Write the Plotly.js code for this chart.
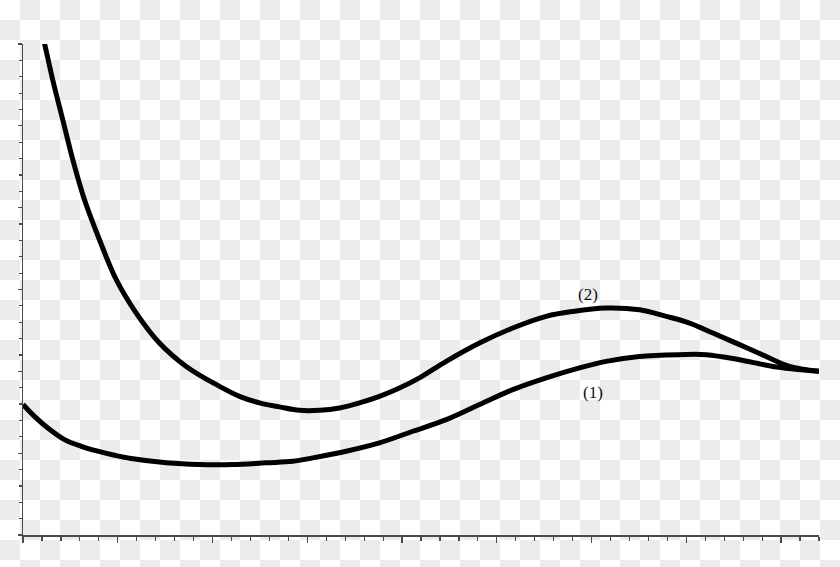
<!DOCTYPE html>
<html>
<head>
<meta charset="utf-8">
<script src="https://cdn.plot.ly/plotly-3.0.1.min.js"></script>
<style>
  html, body { margin: 0; padding: 0; width: 840px; height: 567px; overflow: hidden; background: #ffffff; }
  #chart { width: 840px; height: 567px; }
</style>
</head>
<body>
<div id="chart"></div>
<script>
// Curve (1)
const x1 = [0, 0.121, 0.262, 0.438, 0.614, 0.789, 0.966, 1.142, 1.511, 1.863, 2.214, 2.566, 2.847, 3.058, 3.411, 3.762, 4.114, 4.466, 4.817, 5.169, 5.521, 5.873, 6.154, 6.506, 6.928, 7.210, 7.561, 7.913, 8.4];
const y1 = [7.97, 7.25, 6.54, 5.83, 5.42, 5.12, 4.87, 4.67, 4.41, 4.30, 4.30, 4.41, 4.50, 4.71, 5.12, 5.63, 6.34, 7.05, 7.97, 8.88, 9.60, 10.21, 10.61, 10.91, 11.02, 11.02, 10.71, 10.30, 10.00];
// Curve (2)
const x2 = [0.171, 0.227, 0.314, 0.420, 0.526, 0.649, 0.807, 0.984, 1.195, 1.440, 1.722, 2.074, 2.285, 2.496, 2.707, 2.918, 3.129, 3.340, 3.551, 3.762, 3.973, 4.184, 4.466, 4.817, 5.169, 5.521, 5.802, 6.154, 6.506, 6.788, 7.034, 7.280, 7.561, 7.843, 8.089, 8.4];
const y2 = [31.47, 30.04, 27.80, 25.36, 22.92, 20.48, 18.04, 15.60, 13.56, 11.73, 10.30, 9.08, 8.47, 8.07, 7.83, 7.62, 7.62, 7.76, 8.07, 8.47, 8.98, 9.60, 10.61, 11.73, 12.65, 13.36, 13.66, 13.87, 13.76, 13.36, 12.95, 12.34, 11.63, 10.91, 10.30, 10.00];
// Curve labels
const labelText = ["(2)", "(1)"];
const labelX = [5.96, 6.01];
const labelY = [14.68, 8.72];

const W = 840, H = 567;
const M = { l: 23, r: 21, t: 44, b: 32 };
const pw = W - M.l - M.r, ph = H - M.t - M.b;

// checkerboard backdrop (transparent-image look of the original)
const checker = "data:image/svg+xml," + encodeURIComponent(
  "<svg xmlns='http://www.w3.org/2000/svg' width='" + W + "' height='" + H + "'>" +
  "<defs><pattern id='p' width='40' height='40' patternUnits='userSpaceOnUse'>" +
  "<rect width='40' height='40' fill='#ffffff'/>" +
  "<rect x='20' y='0' width='20' height='20' fill='#ececec'/>" +
  "<rect x='0' y='20' width='20' height='20' fill='#ececec'/>" +
  "</pattern></defs><rect width='" + W + "' height='" + H + "' fill='url(#p)'/></svg>");

const lineStyle = { color: '#000000', width: 5, shape: 'spline', smoothing: 1 };
const traces = [
  { x: x1, y: y1, mode: 'lines', line: lineStyle, hoverinfo: 'skip' },
  { x: x2, y: y2, mode: 'lines', line: lineStyle, hoverinfo: 'skip' }
];

const annotations = labelText.map((t, i) => ({
  x: labelX[i], y: labelY[i], xref: 'x', yref: 'y', text: t, showarrow: false,
  font: { family: 'Liberation Serif, Times New Roman, serif', size: 17, color: '#111111' }
}));

const layout = {
  width: W, height: H,
  margin: { l: M.l, r: M.r, t: M.t, b: M.b, pad: 0 },
  paper_bgcolor: '#ffffff',
  plot_bgcolor: 'rgba(0,0,0,0)',
  showlegend: false,
  images: [{
    source: checker, xref: 'paper', yref: 'paper',
    x: -M.l / pw, y: 1 + M.t / ph, sizex: W / pw, sizey: H / ph,
    xanchor: 'left', yanchor: 'top', sizing: 'stretch', layer: 'below'
  }],
  xaxis: {
    range: [0, 8.4], showgrid: false, zeroline: false,
    showline: true, linecolor: '#4a4a4a', linewidth: 1.5,
    ticks: 'outside', tickcolor: '#4a4a4a', ticklen: 6, tickwidth: 1.3,
    dtick: 1, tick0: 0, showticklabels: false,
    minor: { dtick: 0.2, tick0: 0, ticks: 'outside', ticklen: 4, tickcolor: '#4a4a4a', tickwidth: 1.2, showgrid: false }
  },
  yaxis: {
    range: [0, 30], showgrid: false, zeroline: false,
    showline: true, linecolor: '#4a4a4a', linewidth: 1.5,
    ticks: 'outside', tickcolor: '#4a4a4a', ticklen: 4, tickwidth: 1.3,
    dtick: 5, tick0: 0, showticklabels: false,
    minor: { dtick: 1, tick0: 0, ticks: 'outside', ticklen: 3, tickcolor: '#4a4a4a', tickwidth: 1.2, showgrid: false }
  },
  annotations: annotations
};

Plotly.newPlot('chart', traces, layout, { staticPlot: true, displayModeBar: false });
</script>
</body>
</html>
